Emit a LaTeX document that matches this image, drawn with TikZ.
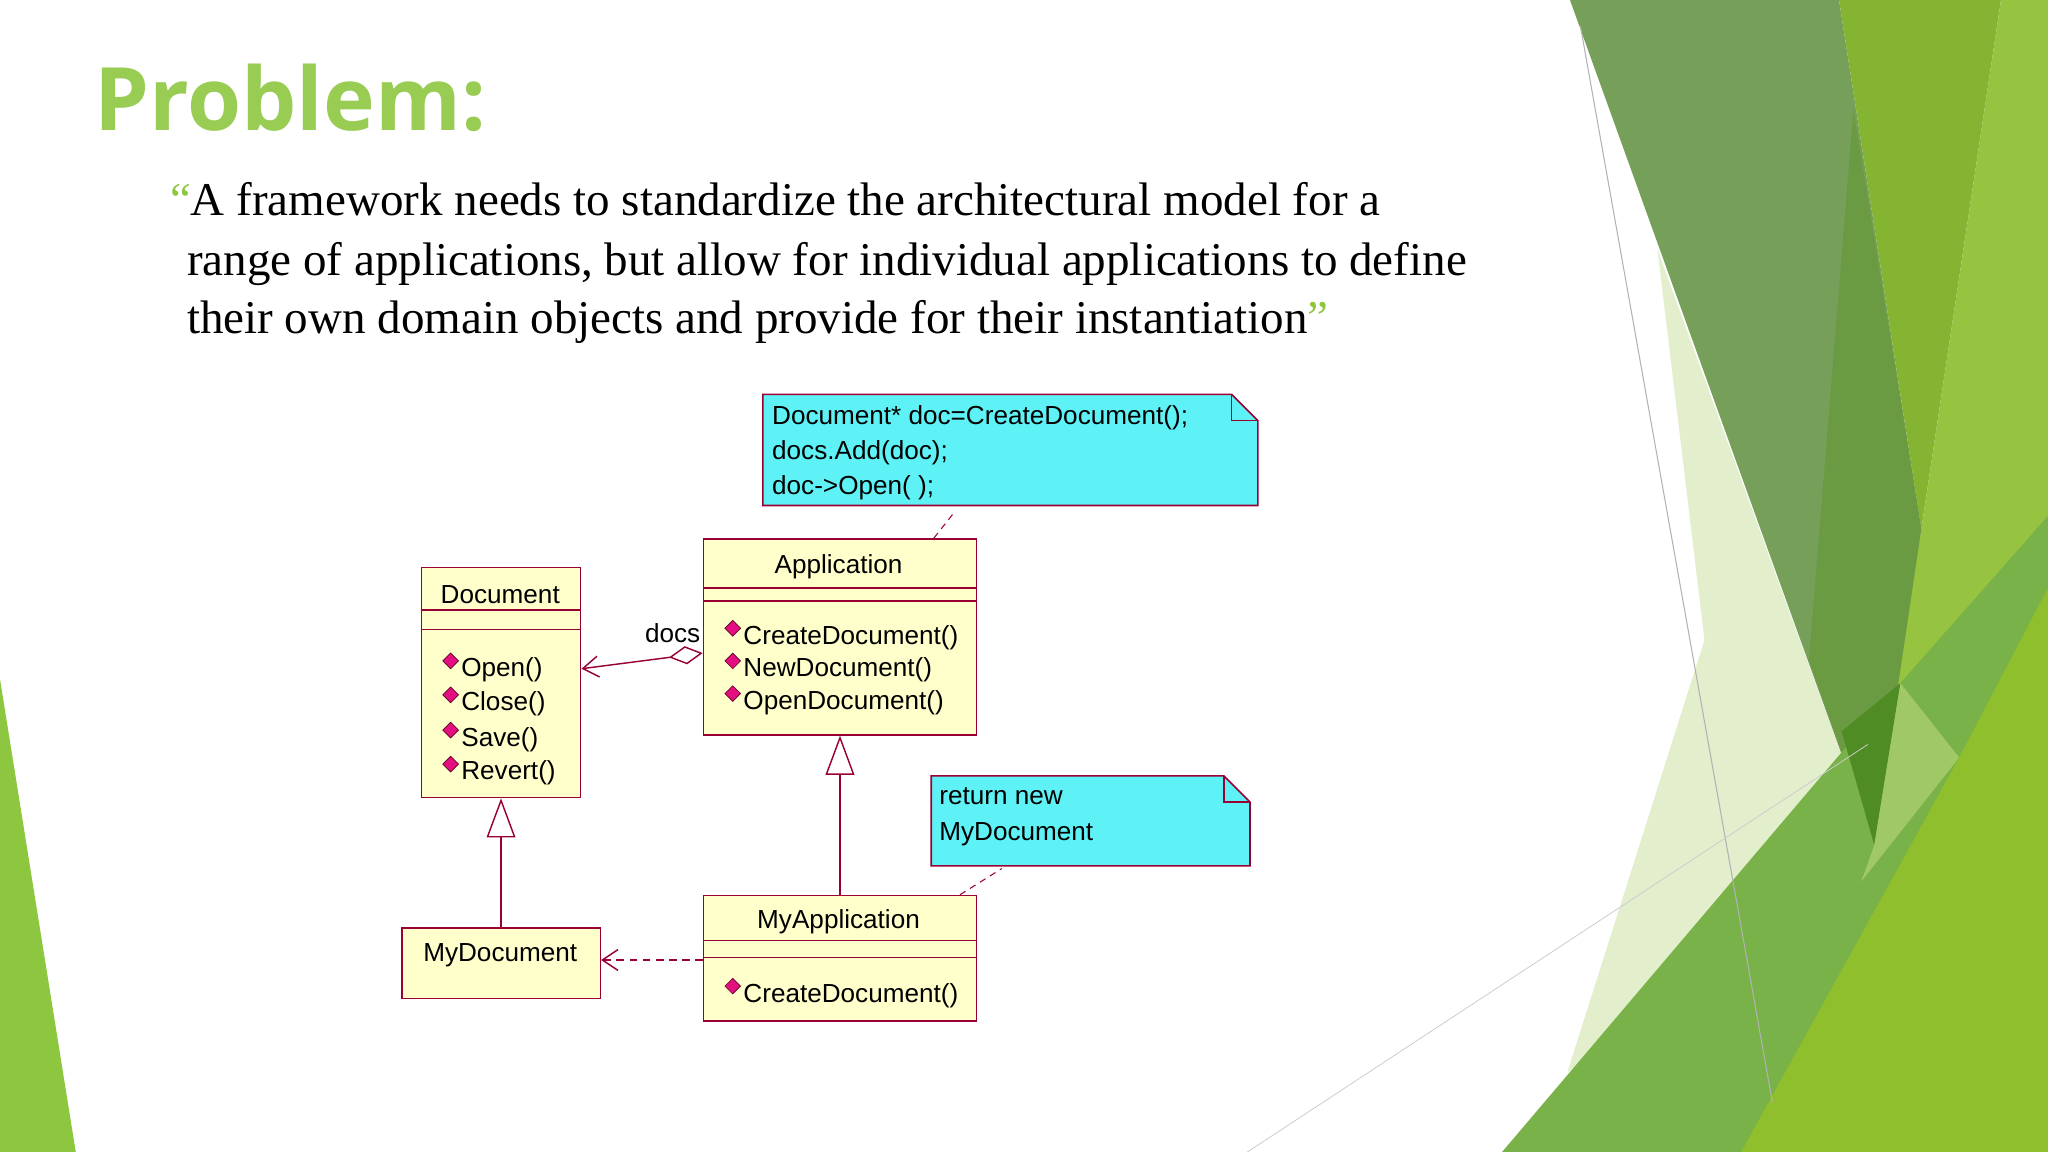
\documentclass[tikz,border=0pt]{standalone}
\usepackage{fontspec}
\setmainfont{Liberation Serif}
\newfontfamily\umlf{Liberation Sans}
\newfontfamily\titlef{Open Sans}
\usetikzlibrary{arrows.meta,calc}
\definecolor{maroon}{HTML}{990033}
\definecolor{boxfill}{HTML}{FFFFCC}
\definecolor{notefill}{HTML}{5EF2F6}
\definecolor{tgreen}{HTML}{8DC63F}
\tikzset{
  umlbox/.style={draw=maroon,fill=boxfill,line width=1.2pt,anchor=north west,inner sep=0pt},
  notebox/.style={draw=maroon,fill=notefill,line width=1.2pt},
  utext/.style={font=\umlf\fontsize{20}{24}\selectfont,inner sep=0pt},
  conn/.style={draw=maroon,line width=1.1pt},
}
\newcommand{\mdiam}[1]{\fill[magenta!80!purple,draw=maroon!60!black,line width=0.5pt] #1 ++(0,-6) -- ++(6,6) -- ++(-6,6) -- ++(-6,-6) -- cycle;}
\begin{document}
\begin{tikzpicture}[x=1pt,y=-1pt]
\useasboundingbox (0,0) rectangle (1568,882);
\fill[white] (0,0) rectangle (1568,882);
% background shapes
\begin{scope}
\fill[tgreen] (0,520) -- (58,882) -- (0,882) -- cycle;
\fill[color={rgb,255:red,226;green,238;blue,204}] (1269,191) -- (1435,647) -- (1200,821) -- (1305,490) -- cycle;
\fill[color={rgb,255:red,118;green,160;blue,90}] (1202,0) -- (1408,0) -- (1471,405) -- (1435,647) -- cycle;
\fill[color={rgb,255:red,132;green,180;blue,50}] (1408,0) -- (1532,0) -- (1471,405) -- cycle;
\fill[color={rgb,255:red,150;green,196;blue,64}] (1532,0) -- (1568,0) -- (1568,882) -- (1420,720) -- (1471,405) -- cycle;
\fill[color={rgb,255:red,106;green,154;blue,66}] (1419,84) -- (1471,405) -- (1435,647) -- (1385,505) -- cycle;
\fill[color={rgb,255:red,120;green,178;blue,72}] (1150,882) -- (1455,523) -- (1568,395) -- (1568,882) -- cycle;
\fill[color={rgb,255:red,80;green,140;blue,36}] (1410,560) -- (1455,523) -- (1435,647) -- cycle;
\fill[color={rgb,255:red,160;green,200;blue,100}] (1455,523) -- (1500,580) -- (1425,675) -- (1435,647) -- cycle;
\fill[color={rgb,255:red,143;green,191;blue,45}] (1333,882) -- (1500,580) -- (1568,450) -- (1568,882) -- cycle;
\draw[gray!60,line width=0.8pt] (1210,20) -- (1357,844);
\draw[gray!40,line width=0.6pt] (955,882) -- (1430,570);
\end{scope}
% title and quote
\node[anchor=base west,inner sep=0pt,text=tgreen!90!white,font=\titlef\bfseries\fontsize{67}{72}\selectfont] (title) at (72,100) {Problem:};
\node[anchor=base west,inner sep=0pt,font=\fontsize{36}{40}\selectfont] (q1) at (130,165) {\textcolor{tgreen}{“}A framework needs to standardize the architectural model for a};
\node[anchor=base west,inner sep=0pt,font=\fontsize{36}{40}\selectfont] (q2) at (143,211) {range of applications, but allow for individual applications to define};
\node[anchor=base west,inner sep=0pt,font=\fontsize{36}{40}\selectfont] (q3) at (143,255) {their own domain objects and provide for their instantiation\textcolor{tgreen}{”}};
% notes
\draw[notebox] (584,302) -- (943,302) -- (963,322) -- (963,387) -- (584,387) -- cycle;
\draw[maroon,line width=1.2pt] (943,302) -- (943,322) -- (963,322);
\node[utext,anchor=north west,align=left] (n1) at (591,310) {Document* doc=CreateDocument();\\[3pt]docs.Add(doc);\\[3pt]doc->Open( );};
\draw[notebox] (713,594) -- (937,594) -- (957,614) -- (957,663) -- (713,663) -- cycle;
\draw[maroon,line width=1.2pt] (937,594) -- (937,614) -- (957,614);
\node[utext,anchor=north west,align=left] (n2) at (719,603) {return new\\[3pt]MyDocument};
\coordinate (n1a) at (730,393);
\coordinate (n2a) at (767,665);
% boxes
\node[umlbox,minimum width=122pt,minimum height=176pt] (doc) at (322,434) {};
\draw[maroon,line width=1.2pt] (322,467) -- (444,467) (322,482) -- (444,482);
\node[utext] at (383,455) {Document};
\node[umlbox,minimum width=209pt,minimum height=150pt] (app) at (538,412) {};
\draw[maroon,line width=1.2pt] (538,450) -- (747,450) (538,460) -- (747,460);
\node[utext] at (642,434) {Application};
\node[umlbox,minimum width=152pt,minimum height=54pt] (mydoc) at (307,710) {};
\node[utext] at (383,731) {MyDocument};
\node[umlbox,minimum width=209pt,minimum height=96pt] (myapp) at (538,685) {};
\draw[maroon,line width=1.2pt] (538,720) -- (747,720) (538,733) -- (747,733);
\node[utext] at (642,706) {MyApplication};
% methods
\foreach \t/\yy in {Open()/513,Close()/539,Save()/566,Revert()/592}{
  \mdiam{(345,\yy-7)}
  \node[utext,anchor=west] at (353,\yy) {\t};
}
\foreach \t/\yy in {CreateDocument()/488,NewDocument()/513,OpenDocument()/538}{
  \mdiam{(561,\yy-7)}
  \node[utext,anchor=west] at (569,\yy) {\t};
}
\mdiam{(561,755)}
\node[utext,anchor=west] at (569,762) {CreateDocument()};
% connectors
\draw[conn,{Diamond[open,fill=white,length=26pt,width=14pt]}-{Straight Barb[length=12pt,width=16pt]}] (app.west|-0,500) -- (doc.east|-0,512);
\node[utext,anchor=base] (docs) at (515,492) {docs};
\draw[conn,-{Triangle[open,fill=white,length=30pt,width=22pt]}] (mydoc.north) -- (doc.south);
\draw[conn,-{Triangle[open,fill=white,length=30pt,width=22pt]}] (myapp.north) -- (app.south);
\draw[conn,dash pattern=on 6pt off 4pt,-{Straight Barb[length=12pt,width=16pt]}] (myapp.west|-0,735) -- (mydoc.east|-0,735);
\draw[conn,dash pattern=on 5pt off 4pt,line width=0.8pt] (app.north-|715,0) -- (n1a);
\draw[conn,dash pattern=on 5pt off 4pt,line width=0.8pt] (myapp.north-|735,0) -- (n2a);
\end{tikzpicture}
\end{document}
